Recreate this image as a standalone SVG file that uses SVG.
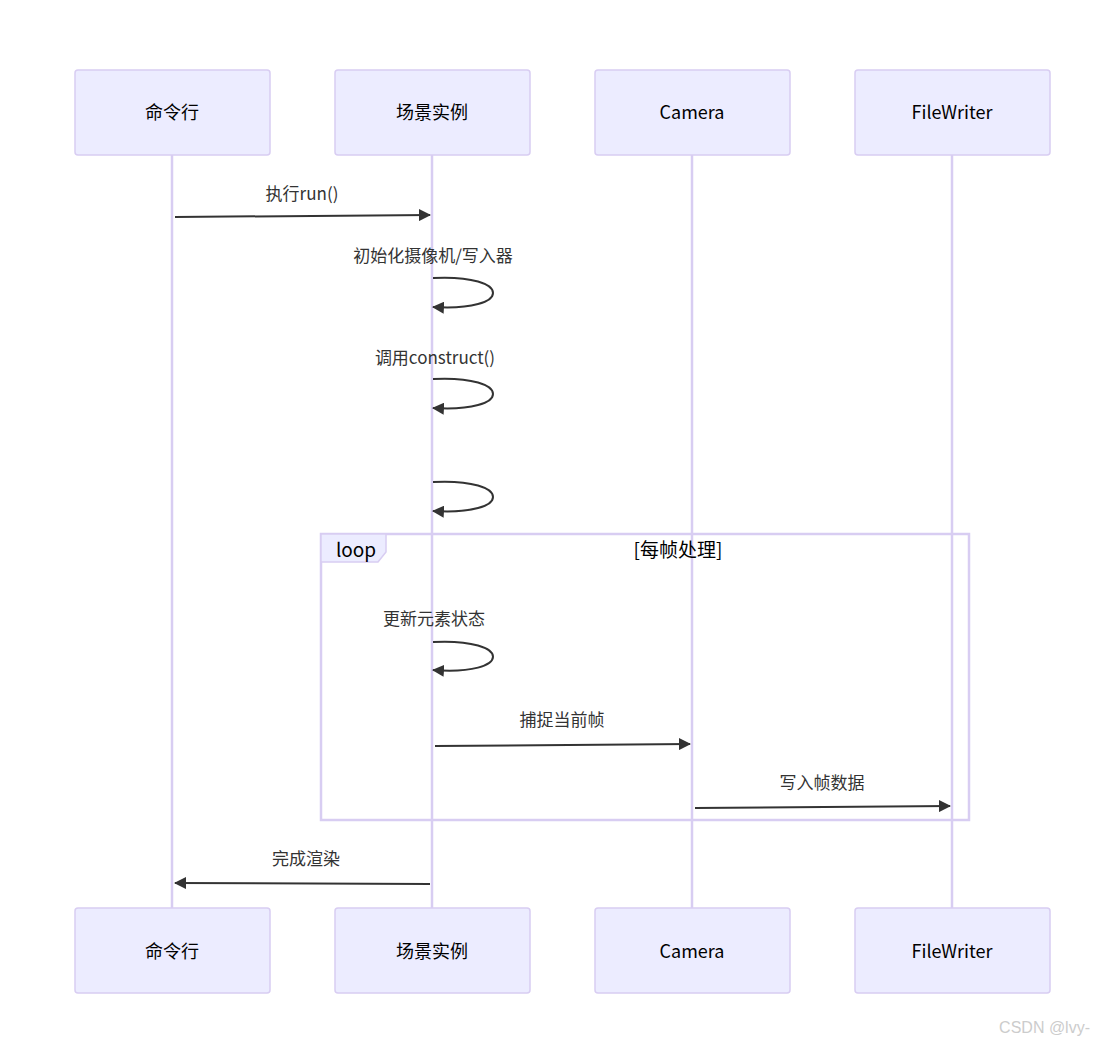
<svg xmlns="http://www.w3.org/2000/svg" width="1094" height="1043" viewBox="0 0 1094 1043">
<style>
.actor{fill:#ECECFF;stroke:#d8cdf2;stroke-width:1.5}
.life{stroke:#d8cdf2;stroke-width:2.5;fill:none}
.t{font-family:"Noto Sans CJK SC","Liberation Sans",sans-serif;font-size:18px;fill:#000;text-anchor:middle}
.m{font-family:"Noto Sans CJK SC","Liberation Sans",sans-serif;font-size:17px;fill:#333;text-anchor:middle}
.msg{stroke:#333;stroke-width:2;fill:none}
</style>
<defs>
<marker id="a" viewBox="0 0 12 12" refX="11" refY="6" markerWidth="12" markerHeight="12" markerUnits="userSpaceOnUse" orient="auto"><path d="M0,0 L12,6 L0,12 z" fill="#333"/></marker>
</defs>
<rect width="1094" height="1043" fill="#fff"/>
<g id="lifelines">
<line class="life" x1="172" y1="155" x2="172" y2="908"/>
<line class="life" x1="432" y1="155" x2="432" y2="908"/>
<line class="life" x1="692" y1="155" x2="692" y2="908"/>
<line class="life" x1="952" y1="155" x2="952" y2="908"/>
</g>
<g id="loop">
<rect x="321" y="534" width="648" height="286" fill="none" stroke="#d8cdf2" stroke-width="2.5"/>
<path d="M321,534 H386 V552 L378,562 H321 Z" fill="#ECECFF" stroke="#d8cdf2" stroke-width="1.5"/>
<text x="356" y="557" class="t" style="font-size:19px">loop</text>
<text x="678" y="557" class="t" style="font-size:19px">[每帧处理]</text>
</g>
<g id="a1"><rect class="actor" x="75" y="70" width="195" height="85" rx="3"/><text class="t" x="172" y="119">命令行</text></g>
<g id="a2"><rect class="actor" x="335" y="70" width="195" height="85" rx="3"/><text class="t" x="432" y="119">场景实例</text></g>
<g id="a3"><rect class="actor" x="595" y="70" width="195" height="85" rx="3"/><text class="t" x="692" y="119">Camera</text></g>
<g id="a4"><rect class="actor" x="855" y="70" width="195" height="85" rx="3"/><text class="t" x="952" y="119">FileWriter</text></g>
<g id="b1"><rect class="actor" x="75" y="908" width="195" height="85" rx="3"/><text class="t" x="172" y="958">命令行</text></g>
<g id="b2"><rect class="actor" x="335" y="908" width="195" height="85" rx="3"/><text class="t" x="432" y="958">场景实例</text></g>
<g id="b3"><rect class="actor" x="595" y="908" width="195" height="85" rx="3"/><text class="t" x="692" y="958">Camera</text></g>
<g id="b4"><rect class="actor" x="855" y="908" width="195" height="85" rx="3"/><text class="t" x="952" y="958">FileWriter</text></g>
<g id="connectors">
<path class="msg" d="M175,217 L430,215" marker-end="url(#a)"/>
<path class="msg" d="M433,278 C513,274 513,312 433,307" marker-end="url(#a)"/>
<path class="msg" d="M433,379 C513,375 513,413 433,408" marker-end="url(#a)"/>
<path class="msg" d="M433,482 C513,478 513,516 433,511" marker-end="url(#a)"/>
<path class="msg" d="M433,642 C513,638 513,676 433,670" marker-end="url(#a)"/>
<path class="msg" d="M435,746 L690,744" marker-end="url(#a)"/>
<path class="msg" d="M695,808 L950,806" marker-end="url(#a)"/>
<path class="msg" d="M430,884 L175,883" marker-end="url(#a)"/>
</g>
<g id="labels">
<text class="m" x="302" y="200">执行run()</text>
<text class="m" x="433" y="262">初始化摄像机/写入器</text>
<text class="m" x="435" y="364">调用construct()</text>
<text class="m" x="434" y="625">更新元素状态</text>
<text class="m" x="562" y="726">捕捉当前帧</text>
<text class="m" x="822" y="789">写入帧数据</text>
<text class="m" x="306" y="865">完成渲染</text>
</g>
<text x="1090" y="1033" font-family="Liberation Sans,sans-serif" font-size="16" fill="#ccc" text-anchor="end">CSDN @lvy-</text>
</svg>
